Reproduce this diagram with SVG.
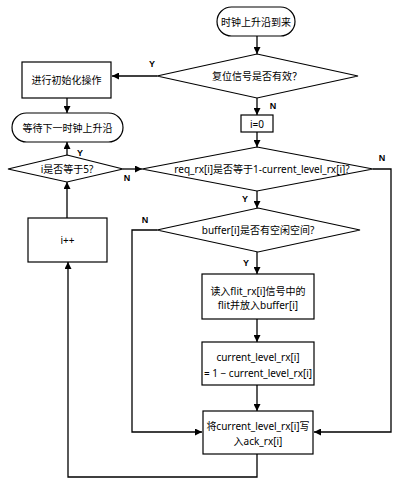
<svg xmlns="http://www.w3.org/2000/svg" width="413" height="490" viewBox="0 0 413 490">
<defs>
<marker id="ah" viewBox="0 0 10 10" refX="10" refY="5" markerWidth="7" markerHeight="7" markerUnits="userSpaceOnUse" orient="auto">
<path d="M0,0 L10,5 L0,10 Z" fill="#000"/>
</marker>
<style>
.s{fill:#fff;stroke:#000;stroke-width:1.2}
.c{fill:none;stroke:#000;stroke-width:1.3}
.t{font-family:"Noto Sans","Noto Sans CJK SC",sans-serif;font-size:10px;fill:#000;text-anchor:middle;dominant-baseline:central}
.l{font-family:"Liberation Sans",sans-serif;font-size:9px;font-weight:bold;fill:#000;text-anchor:middle;dominant-baseline:central}
</style>
</defs>
<rect width="413" height="490" fill="#fff"/>
<g id="connectors">
<path class="c" d="M257,36 V54" marker-end="url(#ah)"/>
<path class="c" d="M157,76 H112" marker-end="url(#ah)"/>
<path class="c" d="M67,98 V113" marker-end="url(#ah)"/>
<path class="c" d="M257,98 V115" marker-end="url(#ah)"/>
<path class="c" d="M257,132 V147" marker-end="url(#ah)"/>
<path class="c" d="M123,169 H142" marker-end="url(#ah)"/>
<path class="c" d="M67,155 V142" marker-end="url(#ah)"/>
<path class="c" d="M373,169 H391 V432 H314" marker-end="url(#ah)"/>
<path class="c" d="M257,191 V208" marker-end="url(#ah)"/>
<path class="c" d="M157,230 H132 V432 H202" marker-end="url(#ah)"/>
<path class="c" d="M257,252 V274" marker-end="url(#ah)"/>
<path class="c" d="M257,319 V342" marker-end="url(#ah)"/>
<path class="c" d="M257,385 V411" marker-end="url(#ah)"/>
<path class="c" d="M257,454 V477 H68 V262" marker-end="url(#ah)"/>
<path class="c" d="M67,218 V182" marker-end="url(#ah)"/>
<text class="l" x="152" y="64">Y</text>
<text class="l" x="273" y="106">N</text>
<text class="l" x="80" y="153">Y</text>
<text class="l" x="127" y="178">N</text>
<text class="l" x="382" y="158">N</text>
<text class="l" x="245" y="199">Y</text>
<text class="l" x="145" y="220">N</text>
<text class="l" x="246" y="263">Y</text>
</g>
<g id="start">
<rect class="s" x="217" y="7" width="78" height="29" rx="14.5"/>
<text class="t" x="256" y="21.5">时钟上升沿到来</text>
</g>
<g id="reset">
<polygon class="s" points="257,54 358,76 257,98 157,76"/>
<text class="t" x="257" y="76">复位信号是否有效？</text>
</g>
<g id="init">
<rect class="s" x="22" y="62" width="89" height="36"/>
<text class="t" x="66.5" y="80">进行初始化操作</text>
</g>
<g id="wait">
<rect class="s" x="12" y="113" width="111" height="29" rx="14.5"/>
<text class="t" x="67.5" y="127.5">等待下一时钟上升沿</text>
</g>
<g id="i0">
<rect class="s" x="241" y="115" width="32" height="17"/>
<text class="t" x="257" y="123.5">i=0</text>
</g>
<g id="req">
<polygon class="s" points="257,147 373,169 257,191 142,169"/>
<text class="t" x="262" y="169">req_rx[i]是否等于1-current_level_rx[i]?</text>
</g>
<g id="ieq5">
<polygon class="s" points="67,155 123,169 67,182 8,169"/>
<text class="t" x="67" y="169">i是否等于5?</text>
</g>
<g id="buf">
<polygon class="s" points="258,208 360,230 258,252 157,230"/>
<text class="t" x="258" y="230">buffer[i]是否有空闲空间?</text>
</g>
<g id="iplus">
<rect class="s" x="28" y="218" width="79" height="44"/>
<text class="t" x="67.5" y="240">i++</text>
</g>
<g id="read">
<rect class="s" x="202" y="274" width="112" height="45"/>
<text class="t" x="258" y="291">读入flit_rx[i]信号中的</text>
<text class="t" x="258" y="305">flit并放入buffer[i]</text>
</g>
<g id="toggle">
<rect class="s" x="202" y="342" width="112" height="43"/>
<text class="t" x="258" y="357">current_level_rx[i]</text>
<text class="t" x="258" y="373">= 1 − current_level_rx[i]</text>
</g>
<g id="ack">
<rect class="s" x="203" y="411" width="110" height="43"/>
<text class="t" x="258" y="426">将current_level_rx[i]写</text>
<text class="t" x="258" y="441">入ack_rx[i]</text>
</g>
</svg>
